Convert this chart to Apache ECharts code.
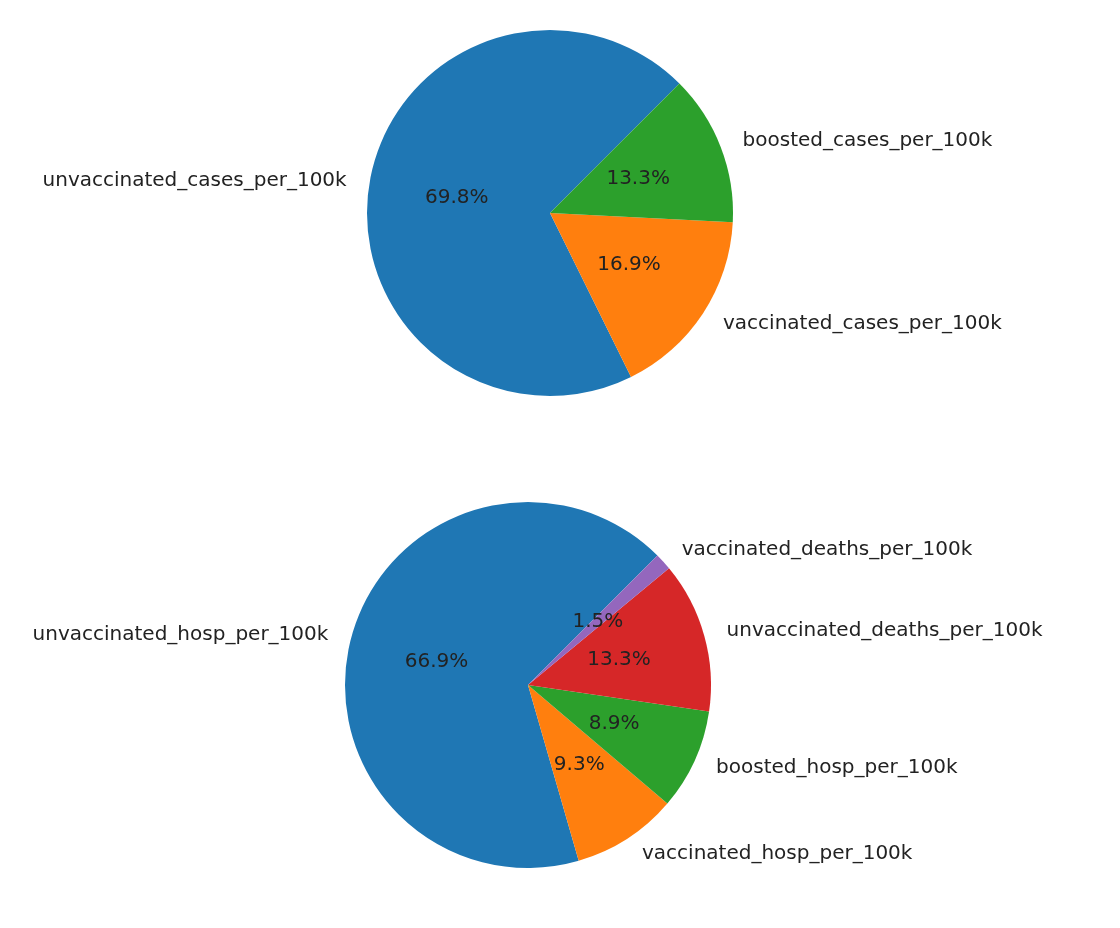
<!DOCTYPE html>
<html><head><meta charset="utf-8">
<script src="https://cdn.jsdelivr.net/npm/echarts@6/dist/echarts.min.js"></script>
<style>html,body{margin:0;background:#fff}#c{width:1120px;height:928px}</style>
</head><body><div id="c"></div>
<script>
var casesNames = ['unvaccinated_cases_per_100k', 'vaccinated_cases_per_100k', 'boosted_cases_per_100k'];
var casesValues = [69.8, 16.9, 13.3];
var hospNames = ['unvaccinated_hosp_per_100k', 'vaccinated_hosp_per_100k', 'boosted_hosp_per_100k',
                 'unvaccinated_deaths_per_100k', 'vaccinated_deaths_per_100k'];
var hospValues = [66.9, 9.3, 8.9, 13.3, 1.5];
var colors = ['#1f77b4', '#ff7f0e', '#2ca02c', '#d62728', '#9467bd'];

var font = {fontFamily: 'DejaVu Sans', fontSize: 20, color: '#222'};

function toData(names, vals, hidden) {
    return names.map(function(n, i) {
        return {name: n, value: vals[i], itemStyle: {color: hidden ? 'rgba(0,0,0,0)' : colors[i]}};
    });
}

// two layered series per pie: one for the % inside, one for the names outside
function pies(names, vals, center) {
    var base = {
        type: 'pie', radius: 183, center: center, startAngle: 45, clockwise: false,
        silent: true, emphasis: {disabled: true}, avoidLabelOverlap: false
    };
    var inner = Object.assign({}, base, {
        data: toData(names, vals, false),
        label: Object.assign({position: 'inside', formatter: function(p) { return p.value.toFixed(1) + '%'; }}, font)
    });
    var outer = Object.assign({}, base, {
        data: toData(names, vals, true),
        label: Object.assign({position: 'outside', formatter: '{b}'}, font),
        labelLine: {show: false, length: 18, length2: 0}
    });
    return [inner, outer];
}

var chart = echarts.init(document.getElementById('c'));
chart.setOption({
    animation: false,
    series: pies(casesNames, casesValues, [550, 213]).concat(pies(hospNames, hospValues, [528, 685]))
});
</script>
</body></html>
